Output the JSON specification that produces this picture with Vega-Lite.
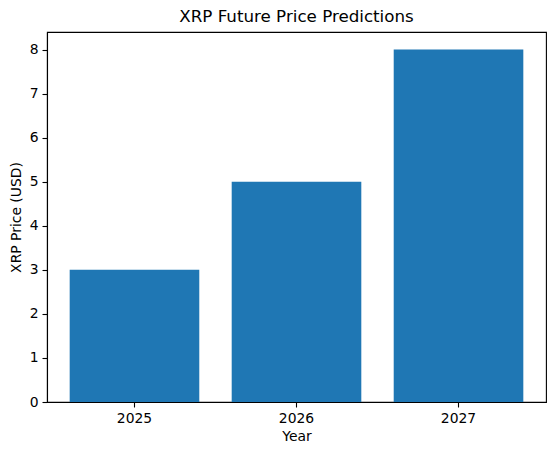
{
  "$schema": "https://vega.github.io/schema/vega-lite/v6.json",
  "width": 499,
  "height": 370,
  "autosize": {"type": "none"},
  "padding": {"left": 47, "top": 32, "right": 8, "bottom": 53},
  "title": {
    "text": "XRP Future Price Predictions",
    "font": "DejaVu Sans",
    "fontSize": 16.7,
    "fontWeight": "normal",
    "color": "black",
    "offset": 6
  },
  "data": {
    "values": [
      {"year": "2025", "price": 3},
      {"year": "2026", "price": 5},
      {"year": "2027", "price": 8}
    ]
  },
  "mark": {"type": "bar", "color": "#1f77b4"},
  "encoding": {
    "x": {
      "field": "year",
      "type": "nominal",
      "title": "Year",
      "scale": {"paddingInner": 0.2, "paddingOuter": 0.14},
      "axis": {"labelAngle": 0}
    },
    "y": {
      "field": "price",
      "type": "quantitative",
      "title": "XRP Price (USD)",
      "scale": {"domain": [0, 8.4], "nice": false},
      "axis": {"values": [0, 1, 2, 3, 4, 5, 6, 7, 8]}
    }
  },
  "config": {
    "font": "DejaVu Sans",
    "view": {"stroke": "black", "strokeWidth": 1.1},
    "axis": {
      "domainColor": "black",
      "domainWidth": 1.1,
      "tickColor": "black",
      "tickSize": 5,
      "tickWidth": 1.1,
      "grid": false,
      "labelFont": "DejaVu Sans",
      "labelFontSize": 13.9,
      "labelColor": "black",
      "labelPadding": 4,
      "titleFont": "DejaVu Sans",
      "titleFontSize": 13.9,
      "titleFontWeight": "normal",
      "titleColor": "black"
    },
    "axisX": {"titlePadding": 5},
    "axisY": {"titlePadding": 6}
  }
}
